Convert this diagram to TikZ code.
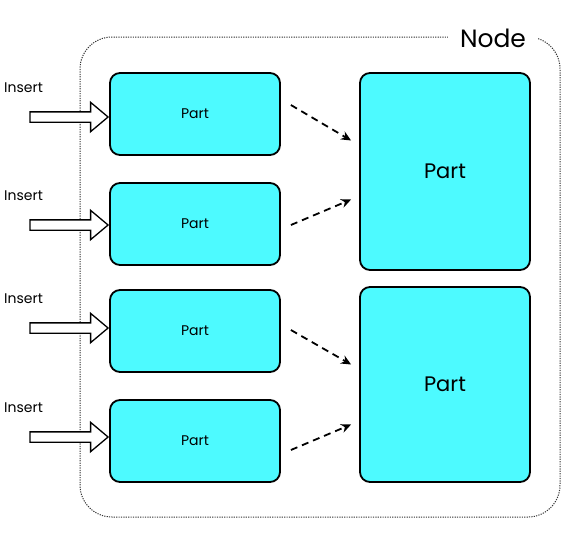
\documentclass[tikz,border=0pt]{standalone}
\usepackage{fontspec}
\setmainfont{Poppins}
\usetikzlibrary{shapes.arrows,arrows.meta,calc}
\definecolor{partcyan}{RGB}{77,250,255}
\tikzset{
  partbox/.style={draw=black, line width=1.8pt, fill=partcyan, rounded corners=10pt, inner sep=0pt},
  small/.style={partbox, minimum width=170pt, minimum height=82pt, font=\fontsize{14}{16}\selectfont},
  big/.style={partbox, minimum width=170pt, font=\fontsize{21}{24}\selectfont},
  insarrow/.style={single arrow, draw=black, line width=1.3pt, fill=white, minimum height=78pt, inner xsep=0pt, inner ysep=4.5pt, single arrow head extend=9.5pt, single arrow tip angle=80, text height=0pt, text depth=0pt},
  instext/.style={font=\fontsize{14}{16}\selectfont, anchor=west, inner sep=0pt},
  dasharrow/.style={line width=1.8pt, dash pattern=on 7pt off 5pt, -{Stealth[length=10pt,width=9pt]}},
  outer/.style={draw=black!80, line width=1pt, dash pattern=on 1.2pt off 1.2pt, rounded corners=32pt}
}
\begin{document}
\begin{tikzpicture}[x=1pt,y=-1pt]
\useasboundingbox (0,0) rectangle (584,536);
\draw[outer] (80,37) rectangle (560,517);
\node[fill=white, inner xsep=12pt, inner ysep=2pt, font=\fontsize{25}{28}\selectfont] (nodelabel) at (493,38) {Node};

\node[small] (p1) at (195,114) {Part};
\node[small] (p2) at (195,224) {Part};
\node[small] (p3) at (195,331) {Part};
\node[small] (p4) at (195,441) {Part};

\node[big, minimum height=197pt] (A) at (445,171.5) {Part};
\node[big, minimum height=195pt] (B) at (445,384.5) {Part};

\foreach \i/\y in {1/117,2/225,3/328,4/437}{
  \node[insarrow] (ia\i) at (66,\y) {};
  \node[instext] (it\i) at (4,\y-29) {Insert};
}

\draw[dasharrow] ([shift={(10,-9)}]p1.east) -- ([shift={(-8,-31)}]A.west);
\draw[dasharrow] ([shift={(10,1)}]p2.east) -- ([shift={(-8,28)}]A.west);
\draw[dasharrow] ([shift={(10,-1)}]p3.east) -- ([shift={(-8,-20)}]B.west);
\draw[dasharrow] ([shift={(10,9)}]p4.east) -- ([shift={(-8,40)}]B.west);
\end{tikzpicture}
\end{document}
